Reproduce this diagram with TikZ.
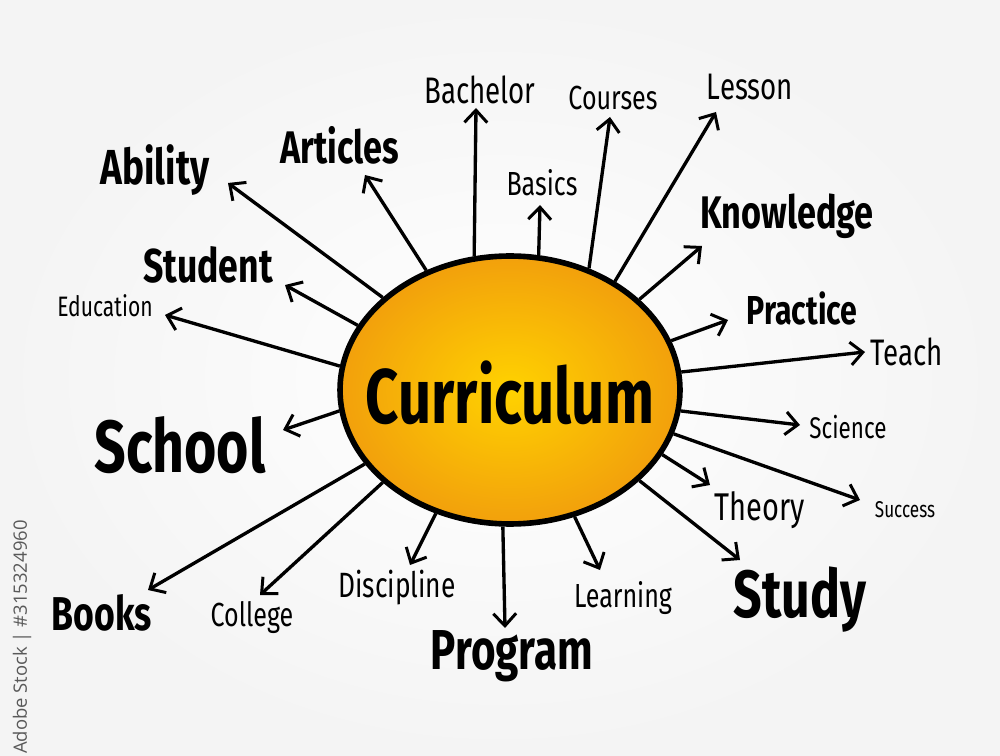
\documentclass[tikz,border=0pt]{standalone}
\usepackage{fontspec}
\usetikzlibrary{shapes.geometric,arrows.meta}
\newfontfamily\hand[FakeStretch=0.75]{Fira Sans}
\newfontfamily\wmfont{Open Sans}
\definecolor{sunin}{HTML}{FFD200}
\definecolor{sunout}{HTML}{F2A00C}
\definecolor{vign}{HTML}{F4F4F4}
\begin{document}
\begin{tikzpicture}[
x=0.02cm, y=-0.02cm,
blob/.style = {ellipse,draw=black,line width=3.2pt,inner color=sunin,outer color=sunout,
  minimum width=6.8cm,minimum height=5.36cm,inner sep=0pt},
lbl/.style = {inner sep=1pt,font=\hand\fontsize{#1}{#1}\selectfont},
big/.style = {inner sep=1pt,font=\hand\bfseries\fontsize{#1}{#1}\selectfont},
arw/.style = {draw,line width=1.9pt,-{Straight Barb[length=7pt,width=13pt,line width=1.7pt]}}
]
  \useasboundingbox[shade,inner color=white,outer color=vign] (0,0) rectangle (1000,756);

  \node[blob] (cur) at (510,390) {};
  \node[big=44] (curt) at (510,393) {Curriculum};

  % labels round the blob
  \node[lbl=21] (bach) at (480,90) {Bachelor};
  \node[lbl=19] (cour) at (613,98) {Courses};
  \node[lbl=21] (less) at (750,87) {Lesson};
  \node[lbl=19] (basi) at (542,183) {Basics};
  \node[big=26] (arti) at (340,145) {Articles};
  \node[big=28] (abil) at (155,170) {Ability};
  \node[big=27] (stud) at (208,265) {Student};
  \node[lbl=16] (educ) at (105,306) {Education};
  \node[big=42] (scho) at (180,445) {School};
  \node[big=26] (know) at (787,216) {Knowledge};
  \node[big=23] (prac) at (802,308) {Practice};
  \node[lbl=21] (teac) at (907,352) {Teach};
  \node[lbl=17] (scie) at (848,427) {Science};
  \node[lbl=22] (theo) at (760,510) {Theory};
  \node[lbl=13] (succ) at (905,510) {Success};
  \node[big=38] (stdy) at (800,600) {Study};
  \node[lbl=19] (lear) at (623,598) {Learning};
  \node[big=32] (prog) at (512,656) {Program};
  \node[lbl=20] (disc) at (397,588) {Discipline};
  \node[lbl=19] (coll) at (252,618) {College};
  \node[big=27] (book) at (102,613) {Books};

  \node[font=\wmfont\fontsize{10.5}{10.5}\selectfont,text=black!65,rotate=90] (wm) at (22,637) {Adobe Stock | \#315324960};

  % arrow tips
  \coordinate (tbach) at (476,108);
  \coordinate (tbasi) at (540,205);
  \coordinate (tcour) at (610,117);
  \coordinate (tless) at (716,112);
  \coordinate (tknow) at (702,246);
  \coordinate (tprac) at (728,320);
  \coordinate (tteac) at (865,352);
  \coordinate (tscie) at (800,425);
  \coordinate (tsucc) at (860,500);
  \coordinate (ttheo) at (710,485);
  \coordinate (tstdy) at (740,560);
  \coordinate (tlear) at (600,570);
  \coordinate (tprog) at (505,628);
  \coordinate (tdisc) at (410,565);
  \coordinate (tcoll) at (260,595);
  \coordinate (tbook) at (148,590);
  \coordinate (tscho) at (283,430);
  \coordinate (teduc) at (165,315);
  \coordinate (tstud) at (285,285);
  \coordinate (tabil) at (228,183);
  \coordinate (tarti) at (365,175);

  \path[arw] (cur.105) -- (tbach);
  \path[arw] (cur.78) -- (tbasi);
  \path[arw] (cur.57) -- (tcour);
  \path[arw] (cur.46) -- (tless);
  \path[arw] (cur.35) -- (tknow);
  \path[arw] (cur.17) -- (tprac);
  \path[arw] (cur.6) -- (tteac);
  \path[arw] (cur.-7) -- (tscie);
  \path[arw] (cur.-15) -- (tsucc);
  \path[arw] (cur.-23) -- (ttheo);
  \path[arw] (cur.-35) -- (tstdy);
  \path[arw] (cur.-63) -- (tlear);
  \path[arw] (cur.-93) -- (tprog);
  \path[arw] (cur.-121) -- (tdisc);
  \path[arw] (cur.-144) -- (tcoll);
  \path[arw] (cur.207) -- (tbook);
  \path[arw] (cur.187) -- (tscho);
  \path[arw] (cur.172) -- (teduc);
  \path[arw] (cur.157) -- (tstud);
  \path[arw] (cur.144) -- (tabil);
  \path[arw] (cur.125) -- (tarti);

\end{tikzpicture}
\end{document}
